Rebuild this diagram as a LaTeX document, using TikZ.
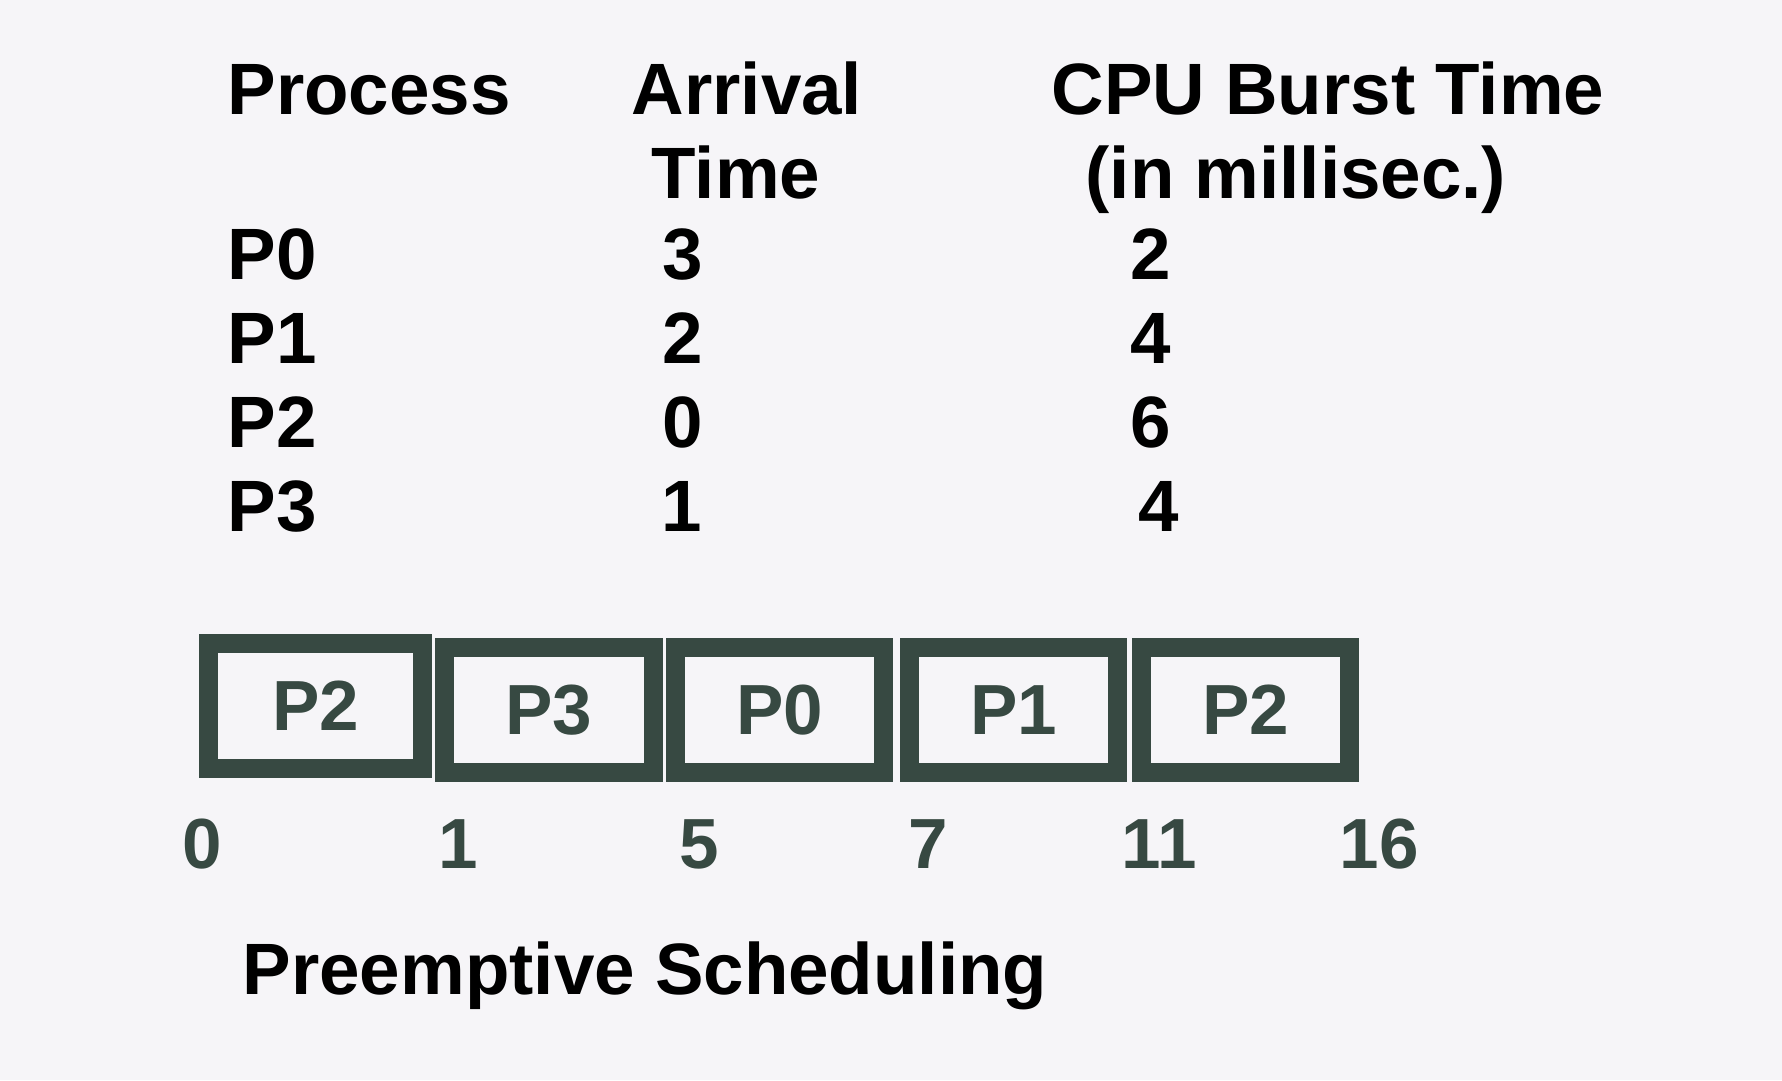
\documentclass[tikz,border=0pt]{standalone}
\usepackage{fontspec}
\setmainfont{Liberation Sans}
\usetikzlibrary{positioning}
\definecolor{pagebg}{RGB}{246,245,248}
\definecolor{slate}{RGB}{55,73,66}

\begin{document}
\begin{tikzpicture}[
    head/.style={font=\fontsize{20.7}{24}\selectfont\bfseries, inner sep=0pt, anchor=base west},
    cell/.style={font=\fontsize{20.7}{24}\selectfont\bfseries, inner sep=0pt, anchor=base},
    slot/.style={rectangle, draw=slate, line width=0.19cm, minimum width=2.08cm, minimum height=1.25cm, inner sep=0pt, text=slate, font=\fontsize{20.2}{24}\selectfont\bfseries},
    tick/.style={font=\fontsize{20.2}{24}\selectfont\bfseries, text=slate, inner sep=0pt, anchor=base},
    node distance=0.03cm
]

    % page
    \fill [pagebg] (0,0) rectangle (17.82,-10.80);
    \useasboundingbox (0,0) rectangle (17.82,-10.80);

    %% TABLE
    \node [head] (hproc) at (2.27,-1.15) {Process};
    \node [head] (harr) at (6.31,-1.15) {Arrival};
    \node [head] (harrb) at (6.51,-1.99) {Time};
    \node [head] (hburst) at (10.51,-1.15) {CPU Burst Time};
    \node [head] (hburstb) at (10.85,-1.99) {(in millisec.)};

    % rows
    \node [head] (p0) at (2.27,-2.80) {P0};
    \node [head] (p1) at (2.27,-3.64) {P1};
    \node [head] (p2) at (2.27,-4.47) {P2};
    \node [head] (p3) at (2.27,-5.31) {P3};

    \node [cell] (a0) at (6.83,-2.80) {3};
    \node [cell] (a1) at (6.83,-3.64) {2};
    \node [cell] (a2) at (6.83,-4.47) {0};
    \node [cell] (a3) at (6.82,-5.31) {1};

    \node [cell] (b0) at (11.51,-2.80) {2};
    \node [cell] (b1) at (11.51,-3.64) {4};
    \node [cell] (b2) at (11.51,-4.47) {6};
    \node [cell] (b3) at (11.59,-5.31) {4};

    %% GANTT CHART
    \node [slot, minimum width=2.14cm] (g1) at (3.155,-7.06) {P2};
    \node [slot, minimum width=2.09cm, right=of g1, yshift=-0.04cm] (g2) {P3};
    \node [slot, right=of g2] (g3) {P0};
    \node [slot, right=0.07cm of g3] (g4) {P1};
    \node [slot, right=0.05cm of g4] (g5) {P2};

    % time marks
    \node [tick] (t0) at (2.02,-8.68) {0};
    \node [tick] (t1) at (4.58,-8.68) {1};
    \node [tick] (t5) at (6.99,-8.68) {5};
    \node [tick] (t7) at (9.28,-8.68) {7};
    \node [tick] (t11) at (11.59,-8.68) {11};
    \node [tick] (t16) at (13.79,-8.68) {16};

    \node [head] (caption) at (2.42,-9.94) {Preemptive Scheduling};

\end{tikzpicture}
\end{document}
